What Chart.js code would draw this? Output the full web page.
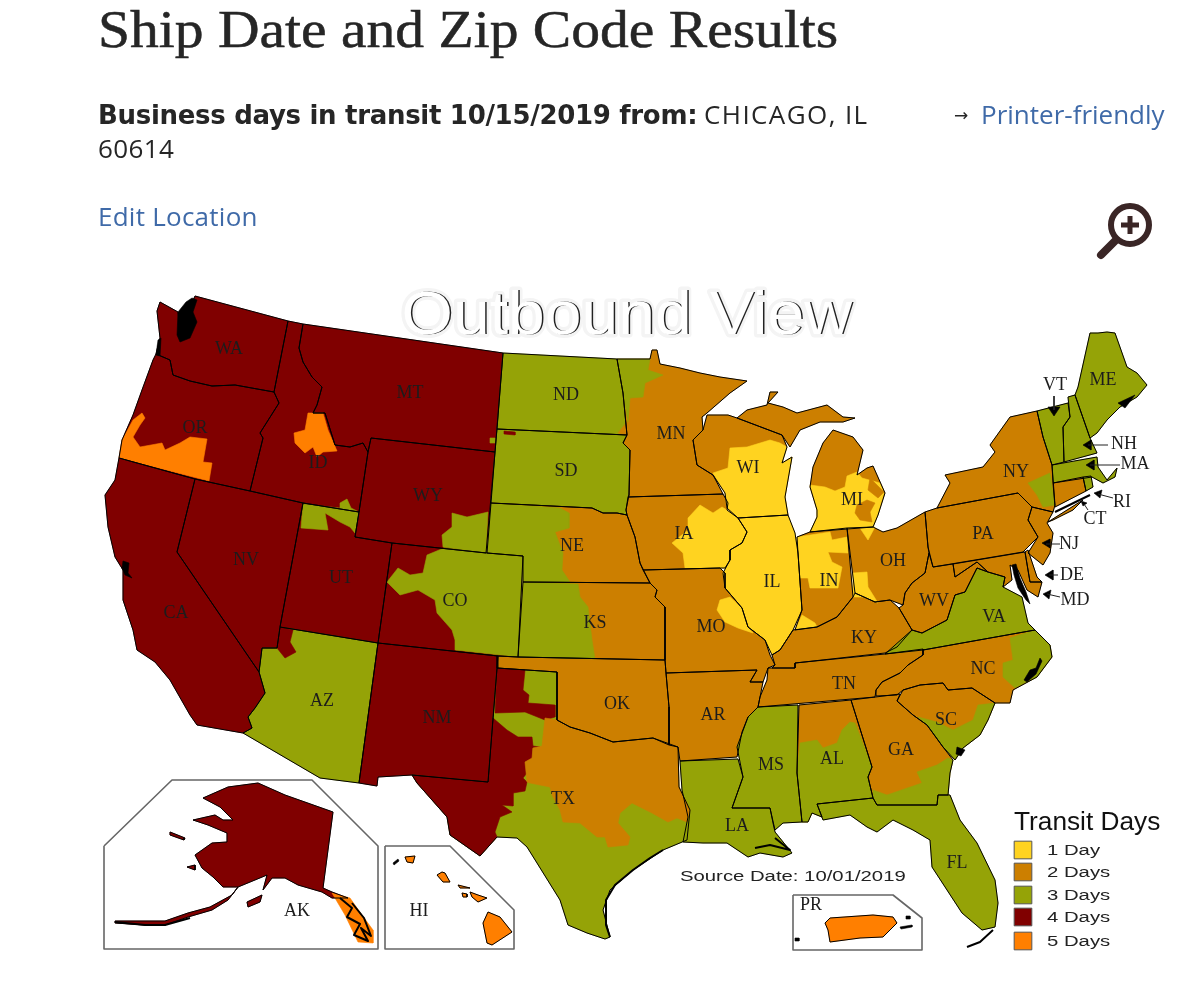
<!DOCTYPE html>
<html>
<head>
<meta charset="utf-8">
<title>Ship Date and Zip Code Results</title>
<script src="https://cdn.jsdelivr.net/npm/chart.js@4"></script>
<style>
    html, body { margin: 0; padding: 0; background: #fff; }
    body { width: 1194px; height: 988px; position: relative; overflow: hidden; }
    #mapChart { position: absolute; left: 0; top: 0; }
    .t { position: absolute; white-space: nowrap; transform-origin: 0 0; color: #262626; }
    .link { color: #3f6aa8; }
    h1.t { margin: 0; left: 98px; top: 0; font: 400 52px/60px "Liberation Serif", serif; transform: scaleX(1.107); -webkit-text-stroke: 0.5px #262626; }
    .body { font: 400 26px/34px "Open Sans", sans-serif; }
    .body b { font-family: "DejaVu Sans", sans-serif; font-size: 26px; font-weight: 700; letter-spacing: -0.3px; }
    .body span { letter-spacing: 1.4px; }
    #zoomIcon { position: absolute; left: 1090px; top: 198px; }
</style>
</head>
<body>
<canvas id="mapChart" width="1194" height="988"></canvas>
<h1 class="t">Ship Date and Zip Code Results</h1>
<div class="t body" style="left:98px;top:97px"><b>Business days in transit 10/15/2019 from:</b> <span>CHICAGO, IL</span></div>
<div class="t body" style="left:98px;top:131px;letter-spacing:0.4px">60614</div>
<div class="t body link" style="left:98px;top:199px;letter-spacing:0.25px">Edit Location</div>
<div class="t body link" style="left:981px;top:97px">Printer-friendly</div>
<div class="t" style="left:954px;top:105px;font:400 17px 'DejaVu Sans'">&#8594;</div>
<svg id="zoomIcon" width="68" height="66" viewBox="0 0 68 66">
    <circle cx="40" cy="27" r="19" fill="#fff" stroke="#3a2626" stroke-width="6"/>
    <path d="M40 18v18M31 27h18" stroke="#3a2626" stroke-width="5"/>
    <path d="M26 42L11 57" stroke="#3a2626" stroke-width="8" stroke-linecap="round"/>
</svg>
<script>
const WA = [160,302,178,312,180,330,195,296,288,321,274,392,235,385,212,386,190,381,173,375,170,360,156,354,160,338,157,311];
const OR = [156,354,170,360,173,375,190,381,212,386,235,385,274,392,279,403,260,433,263,438,250,491,195,479,119,458,122,440,133,415,142,390,153,360];
const ID = [288,321,303,324,299,348,303,362,312,377,322,387,317,405,313,413,325,413,335,445,350,447,363,443,368,452,359,512,303,503,250,491,263,438,260,433,279,403,274,392];
const MT = [303,324,503,353,495,452,371,438,368,452,363,443,350,447,335,445,325,413,313,413,317,405,322,387,312,377,303,362,299,348];
const WY = [371,438,495,452,486,553,392,543,355,537,359,512,368,452];
const NV = [195,479,250,491,303,503,280,627,277,648,262,648,259,672,177,552];
const CA = [119,458,195,479,177,552,259,672,265,693,255,708,248,717,252,728,243,733,197,725,190,715,170,680,155,662,137,650,133,630,123,600,123,570,115,557,108,527,105,495,115,480];
const UT = [303,503,359,512,355,537,392,543,378,643,280,627];
const CO = [392,543,487,553,523,556,518,657,498,656,378,643];
const AZ = [262,648,277,648,280,627,378,643,359,783,320,778,243,733,252,728,248,717,255,708,265,693,259,672];
const NM = [378,643,498,656,497,668,488,782,412,775,378,777,377,786,359,783];
const ND = [503,353,617,359,623,393,627,435,497,429];
const SD = [497,429,627,435,623,443,630,450,629,495,626,510,627,515,617,513,603,513,592,508,491,503,495,452];
const NE = [491,503,592,508,603,513,617,513,627,515,635,537,640,563,650,583,523,582,523,556,487,553];
const KS = [523,582,650,583,657,590,655,597,665,607,665,660,518,657];
const OK = [498,656,518,657,665,660,666,673,669,707,669,745,653,738,613,742,590,733,570,727,557,720,557,672,497,668];
const TX = [497,668,557,672,557,720,570,727,590,733,613,742,653,738,678,747,679,787,690,810,687,840,663,850,633,870,610,890,603,910,610,937,605,939,587,933,568,925,560,900,537,863,527,847,517,838,497,837,480,856,450,835,447,817,417,783,412,775,488,782];
const MN = [617,359,650,359,652,350,657,350,660,364,680,368,700,373,720,377,747,381,730,393,707,413,702,417,703,430,693,440,697,465,713,475,723,494,628,497,629,495,630,450,623,443,627,435,623,393];
const IA = [628,497,723,494,728,503,727,510,738,518,747,532,742,543,730,550,730,560,725,568,720,568,643,570,640,563,635,537,627,515,626,510];
const MO = [643,570,720,568,725,573,725,588,742,608,748,627,765,640,770,655,775,665,768,668,763,682,750,682,757,670,666,673,665,660,665,607,655,597,657,590,650,583];
const AR = [666,673,757,670,750,682,763,682,760,697,758,707,748,717,742,732,737,757,680,761,678,747,669,745,669,707];
const LA = [680,761,738,759,743,777,732,808,770,808,773,823,775,832,792,853,783,857,760,853,748,857,727,843,703,843,683,842,688,817,682,790];
const WI = [707,415,728,415,737,418,782,435,787,447,782,463,792,457,785,497,788,515,738,518,727,508,725,493,713,475,697,465,693,440,703,430];
const IL = [738,518,788,515,795,533,798,553,802,610,793,630,780,650,772,655,765,640,748,627,742,608,725,588,723,573,730,560,730,550,742,543,747,532];
const MIU = [737,418,747,410,767,405,770,392,778,392,768,403,783,407,797,413,827,405,843,417,855,418,843,422,820,422,800,430,790,447,782,435];
const MIL = [810,532,817,517,817,510,810,487,813,467,823,443,833,430,853,437,863,450,857,475,867,468,873,466,885,493,878,515,873,527];
const IN = [797,537,810,532,847,528,853,597,837,617,817,627,795,630,802,610,798,553];
const OH = [847,528,873,527,883,532,897,528,925,512,928,547,929,553,925,573,912,583,905,593,903,605,890,600,875,602,855,593];
const KY = [853,597,855,593,875,602,890,600,899,608,912,630,897,647,885,653,795,663,795,668,772,668,775,665,772,655,780,650,793,630,817,627,837,617];
const TN = [768,668,795,668,795,663,885,654,923,649,923,655,908,665,900,673,882,682,876,690,875,697,758,707,760,697,767,680];
const MS = [758,707,798,705,797,773,802,822,783,823,775,830,770,808,732,808,743,777,737,747,748,717];
const AL = [799,705,851,700,872,767,868,777,873,798,817,804,822,817,812,813,808,822,802,822,797,773];
const GA = [851,700,900,694,897,701,913,715,927,725,943,747,953,760,950,773,948,795,938,795,937,805,877,805,873,798,868,777,872,767];
const FL = [877,805,937,805,938,795,950,795,960,820,977,843,995,880,998,903,995,927,982,930,962,913,947,890,932,867,930,840,913,830,893,820,877,832,867,827,850,815,823,820,817,804,873,798];
const SC = [897,701,903,690,920,685,943,683,948,690,972,688,995,703,988,720,980,735,963,748,955,760,943,747,927,725,913,715];
const NC = [923,650,1035,630,1050,645,1052,657,1037,677,1013,690,1010,703,995,703,972,688,948,690,943,683,920,685,903,690,897,695,876,696,876,690,882,682,900,673,908,665,923,655];
const VA = [885,654,912,630,922,633,947,620,955,595,965,592,977,568,988,572,1005,577,1003,587,1022,597,1028,623,1035,630,923,650];
const WV = [929,553,933,567,953,564,955,577,977,562,988,572,977,568,965,592,955,595,947,620,922,633,912,630,899,608,903,605,905,593,912,583,925,573];
const PA = [925,512,937,508,1018,493,1032,507,1028,520,1038,537,1023,552,933,567,928,547];
const NY = [937,508,950,483,945,475,983,467,995,452,990,445,1010,417,1037,411,1043,437,1052,465,1055,505,1053,512,1032,507,1018,493];
const LI = [1048,522,1083,500,1073,510,1053,520];
const NJ = [1032,507,1053,512,1047,523,1053,533,1050,553,1043,565,1028,553,1038,537,1028,520];
const MD = [953,564,1025,552,1030,582,1042,582,1038,597,1027,590,1018,570,1010,565,1012,580,1003,587,1005,577,988,572,977,562,955,577];
const DE = [1025,552,1028,550,1037,577,1042,582,1030,582];
const VT = [1037,411,1068,403,1070,417,1063,427,1064,462,1052,465,1043,437];
const NH = [1068,397,1075,395,1090,438,1097,453,1064,462,1063,427,1070,417];
const ME = [1075,395,1078,387,1090,333,1098,333,1107,332,1115,333,1127,367,1137,373,1147,385,1137,397,1120,407,1107,420,1097,433,1090,438];
const MA = [1052,465,1097,457,1098,467,1107,480,1117,468,1115,477,1103,483,1092,477,1053,483];
const CT = [1053,483,1083,477,1086,491,1055,507];
const RI = [1083,477,1091,476,1093,487,1086,491];
const AK = [203,798,228,787,258,783,285,795,333,812,323,888,332,892,348,898,332,898,322,892,298,885,285,878,272,878,263,890,267,875,238,887,228,900,212,910,188,917,165,925,145,925,115,923,115,921,145,921,165,921,188,913,210,907,232,895,238,887,223,887,213,877,202,868,195,855,212,843,227,842,227,833,208,825,193,820,215,815,223,820,233,820,220,807];
const KODIAK = [247,902,262,895,260,902,248,907];
const STLAWRENCE = [170,832,185,838,184,840,170,835];
const NUNIVAK = [187,867,195,865,195,870];

// areas that differ from the rest of their state
const orCoast = [133,420,142,413,145,418,140,425,133,437,140,447,162,443,165,450,180,443,190,437,207,439,203,462,212,463,209,481,119,458,122,440];
const idPatch = [308,413,323,413,328,430,337,451,323,452,317,457,313,447,305,453,295,443,294,433,305,430];
const utPatch = [303,504,339,508,340,503,347,499,351,508,359,512,355,533,350,527,340,522,325,513,328,530,301,528];
const wyPatch = [452,513,467,517,488,512,486,553,443,547,442,535,452,527];
const coBase = [444,548,523,556,518,657,455,650,455,640,452,630,437,613,435,600,418,590,400,595,387,582,398,568,410,575,423,573,427,555];
const azPatch = [280,627,293,630,290,642,296,652,285,658,277,648];
const txRedTop = [497,668,525,670,523,690,529,695,528,703,555,705,555,717,545,720,525,712,495,713];
const txRedLow = [493,718,507,730,518,737,532,737,533,746,540,747,532,748,532,759,525,762,527,773,523,778,527,782,525,791,513,793,513,806,502,805,512,812,500,817,495,832,497,837,480,856,450,835,447,817,417,783,412,775,488,782];
const txOrange = [545,718,557,720,570,727,590,733,613,742,653,738,678,747,679,787,690,810,687,822,677,818,668,822,652,813,632,803,620,813,618,823,630,837,628,845,608,847,605,837,597,837,580,823,563,822,560,810,552,795,550,787,530,783,527,782,525,762,532,758,533,748,542,746];
const mnGreen = [617,359,650,359,648,370,663,375,645,383,643,397,630,398,628,422,623,393];
const neGreen = [491,503,560,508,569,513,569,528,555,532,563,553,562,570,570,582,523,582,523,556,487,553];
const ksGreen = [523,582,578,584,580,597,588,607,592,640,595,659,518,657];
const ndOrange = [618,433,627,422,627,435];
const sdRed = [504,431,515,432,515,435,504,434];
const mtGreen = [490,438,495,438,495,443,490,443];
const wiYellow = [713,473,728,468,730,448,747,447,770,440,780,443,787,447,782,463,792,457,785,497,788,515,738,518,727,508,725,493];
const miYellow = [810,485,825,487,835,491,845,487,847,476,857,472,862,478,880,483,884,493,878,515,873,527,810,532,817,517,817,510];
const miOrangeA = [857,505,867,500,875,503,870,512,872,522,860,520,855,513];
const miOrangeB = [870,478,884,492,878,498,868,490];
const iaYellow = [672,543,688,530,688,518,700,505,713,513,722,507,727,510,738,518,747,532,742,543,730,550,730,560,725,568,685,568,683,553];
const moYellow = [720,600,730,597,742,608,748,627,753,633,738,628,725,622,717,610];
const inYellowA = [797,537,830,532,832,540,847,537,848,553,828,552,832,562,842,567,838,588,820,588,810,588,808,578,800,578];
const inYellowB = [795,630,802,615,815,623,817,627];
const ohYellowA = [853,573,867,572,868,587,878,603,863,597,853,597];
const ohYellowB = [860,528,875,527,868,540];
const alGreen = [800,743,817,740,823,748,837,743,842,730,850,722,855,723,872,767,868,777,873,798,817,804,822,817,812,813,808,822,802,822,797,773];
const gaGreen = [873,790,887,795,922,783,917,772,937,765,948,758,953,760,950,773,948,795,938,795,937,805,877,805,873,798];
const scGreen = [918,717,937,722,953,730,973,720,978,705,995,703,988,720,980,735,963,748,955,760,943,747,927,725];
const ncGreen = [1010,638,1035,630,1050,645,1052,657,1037,677,1015,688,1003,677,1003,663,1013,660];
const nyGreen = [1028,483,1050,473,1055,505,1043,507,1037,495];
const seAlaska = [332,893,350,898,362,915,373,930,373,943,358,942,345,915];
const hiBig = [488,912,500,917,512,932,492,945,487,943,483,923];
const hiMaui = [470,892,478,895,487,898,478,902,472,897];
const hiMolokai = [458,885,470,888,460,888];
const hiLanai = [462,893,467,894,467,897,463,897];
const hiOahu = [442,872,445,873,450,882,443,882,437,875];
const hiKauai = [405,857,415,856,413,863,407,862];
const prMain = [825,923,830,918,873,915,893,917,897,923,883,937,860,938,830,942,828,930];

// black coast detail and leader arrows
const puget = [178,312,186,302,192,298,197,300,193,312,197,322,190,338,180,342,177,335];
const grays = [158,340,161,338,160,356,156,355];
const sfBay = [123,561,129,563,128,573,132,578,125,575,122,568];
const chesapeake = [1012,565,1016,564,1020,578,1026,592,1030,604,1026,600,1018,588,1014,575];
const charleston = [957,747,965,750,961,756,956,754];
const pamlico = [1024,680,1030,670,1036,668,1040,658,1042,661,1036,674,1027,682];
const maineCoast = [1118,403,1135,395,1125,408];
const niihau = [393,863,398,859,399,861,394,865];
const vieques = [900,927,912,925,912,927,901,929];
const culebra = [906,916,910,916,910,919,906,919];
const mona = [795,938,799,938,799,941,795,941];
const arrowVT = [1048,407,1060,407,1054,416];
const arrowNH = [1083,445,1091,440,1091,450];
const arrowMA = [1086,465,1094,460,1094,470];
const arrowRI = [1094,493,1102,490,1100,498];
const arrowCT = [1081,501,1087,503,1083,506];
const arrowNJ = [1042,543,1050,539,1050,548];
const arrowDE = [1045,575,1053,570,1053,580];
const arrowMD = [1043,594,1051,590,1049,599];
const leaders = [
    [1054,396,1054,410], [1088,445,1108,445], [1090,465,1120,465], [1098,494,1113,498],
    [1084,504,1088,510], [1046,544,1060,544], [1049,575,1058,575], [1047,594,1060,597]
];
const texasCoast = [663,850,650,858,633,870,615,885,606,900,606,925,610,937];
const deltaCoast = [755,848,770,845,790,850,775,838];
const lisound = [1055,512,1090,495];
const floridaKeys = [967,947,980,942,993,930];
const aleutians = [115,922,145,925,165,925,190,918];
const panhandleInlets = [340,898,352,908,347,917,360,924,354,935,368,941,361,928,371,936,364,918,352,903];

// inset frames
const frameAK = [104,846,172,780,312,780,378,846,378,949,104,949];
const frameHI = [385,846,450,846,514,910,514,949,385,949];
const framePR = [793,895,893,895,922,918,922,950,793,950];

const dayColors = { 1: '#ffd320', 2: '#cc7f00', 3: '#95a307', 4: '#800000', 5: '#ff7f00' };

const stateShapes = [WA,OR,ID,MT,WY,NV,CA,UT,CO,AZ,NM,ND,SD,NE,KS,OK,TX,MN,IA,MO,AR,LA,WI,IL,MIU,MIL,IN,OH,KY,TN,MS,AL,GA,FL,SC,NC,VA,WV,PA,NY,LI,NJ,MD,DE,VT,NH,ME,MA,CT,RI,AK,KODIAK,STLAWRENCE,NUNIVAK];
const stateDays   = [4, 4, 4, 4, 4, 4, 4, 4, 4, 3, 4, 3, 3, 2, 2, 2, 3, 2, 2, 2, 2, 3, 2, 1, 2, 2, 2, 2, 2, 2, 3, 2, 2, 3, 2, 2, 3, 2, 2, 2, 2, 2, 2, 2, 3, 3, 3, 3, 2, 3, 4, 4, 4, 4];

const patchShapes = [orCoast,idPatch,utPatch,wyPatch,coBase,azPatch,txRedTop,txRedLow,txOrange,mnGreen,neGreen,ksGreen,ndOrange,sdRed,mtGreen,wiYellow,miYellow,miOrangeA,miOrangeB,iaYellow,moYellow,inYellowA,inYellowB,ohYellowA,ohYellowB,alGreen,gaGreen,scGreen,ncGreen,nyGreen,seAlaska];
const patchDays   = [5, 5, 3, 3, 3, 4, 4, 4, 2, 3, 3, 3, 2, 4, 3, 1, 1, 2, 2, 1, 1, 1, 1, 1, 1, 3, 3, 3, 3, 3, 5];
const islandShapes = [hiBig,hiMaui,hiMolokai,hiLanai,hiOahu,hiKauai,prMain];
const blackShapes = [puget,grays,sfBay,chesapeake,charleston,pamlico,maineCoast,niihau,vieques,culebra,mona,arrowVT,arrowNH,arrowMA,arrowRI,arrowCT,arrowNJ,arrowDE,arrowMD];
const coastLines = [texasCoast,deltaCoast,lisound,floridaKeys,aleutians,panhandleInlets];

const labelNames = ['WA','MT','OR','ID','WY','ND','SD','MN','WI','MI','NY','PA','OH','IN','IL','IA','NE','KS','MO','KY','WV','VA','NC','TN','AR','OK','AZ','NM','TX','LA','MS','AL','GA','SC','FL','CO','UT','NV','CA','ME','VT','NH','MA','RI','CT','NJ','DE','MD','AK','HI','PR'];
const labelX = [229,410,195,318,428,566,566,671,748,852,1016,983,893,829,772,684,572,595,711,864,934,994,983,844,713,617,322,437,563,737,771,832,901,946,957,455,341,246,176,1103,1055,1124,1135,1122,1095,1069,1072,1075,297,419,811];
const labelY = [349,393,428,463,496,395,471,434,468,500,472,534,561,581,582,534,546,623,627,638,601,617,669,684,715,704,701,718,799,826,765,759,750,720,863,601,578,560,613,380,385,444,464,502,519,544,575,600,911,911,905];

const legendTitle = 'Transit Days';
const legendLabels = ['1 Day', '2 Days', '3 Days', '4 Days', '5 Days'];
const legendValues = [1, 2, 3, 4, 5];
const legendY = [850, 872, 895, 917, 941];
const legendX = 1023;

function toPoints(list) {
    const pts = [];
    for (let i = 0; i < list.length; i += 2) pts.push({ x: list[i], y: list[i + 1] });
    return pts;
}

function closed(list) {
    return toPoints(list.concat(list.slice(0, 2)));
}

function fillSet(list, color) {
    return { type: 'scatter', showLine: true, data: closed(list), fill: 'shape', backgroundColor: color, borderColor: color, borderWidth: 0.6, pointRadius: 0, clip: false };
}

function lineSet(points, color, width) {
    return { type: 'scatter', showLine: true, data: points, fill: false, borderColor: color, borderWidth: width, borderJoinStyle: 'round', pointRadius: 0, clip: false };
}

const datasets = [];
stateShapes.forEach((s, i) => datasets.push(fillSet(s, dayColors[stateDays[i]])));
patchShapes.forEach((s, i) => datasets.push(fillSet(s, dayColors[patchDays[i]])));
islandShapes.forEach(s => datasets.push(fillSet(s, dayColors[5])));
stateShapes.forEach(s => datasets.push(lineSet(closed(s), '#000', 1)));
islandShapes.forEach(s => datasets.push(lineSet(closed(s), '#000', 1)));
blackShapes.forEach(s => datasets.push(fillSet(s, '#000')));
coastLines.forEach(s => datasets.push(lineSet(toPoints(s), '#000', 2)));
leaders.forEach(s => datasets.push(lineSet(toPoints(s), '#222', 1)));
[frameAK, frameHI, framePR].forEach(s => datasets.push(lineSet(closed(s), '#666', 1.6)));
datasets.push({
    type: 'scatter',
    data: legendValues.map((v, i) => ({ x: legendX, y: legendY[i] })),
    backgroundColor: legendValues.map(v => dayColors[v]),
    borderColor: '#555',
    borderWidth: 1,
    pointStyle: 'rect',
    pointRadius: 12.5
});
// chart draws the first dataset on top, we want the list order painted in sequence
datasets.forEach((d, i) => { d.order = datasets.length - i; });

function stretchedText(ctx, text, x, y, font, color, sx) {
    ctx.save();
    ctx.translate(x, y);
    ctx.scale(sx, 1);
    ctx.font = font;
    ctx.fillStyle = color;
    ctx.textBaseline = 'middle';
    ctx.fillText(text, 0, 0);
    ctx.restore();
}

const mapText = {
    id: 'mapText',
    afterDraw(chart) {
        const { ctx, scales } = chart;
        const px = v => scales.x.getPixelForValue(v);
        const py = v => scales.y.getPixelForValue(v);
        ctx.save();
        ctx.font = '18px "Liberation Serif"';
        ctx.textAlign = 'center';
        ctx.textBaseline = 'middle';
        ctx.fillStyle = '#1c1c1c';
        labelNames.forEach((n, i) => ctx.fillText(n, px(labelX[i]), py(labelY[i])));
        ctx.restore();

        // title has a thin dark edge and a pale halo
        ctx.save();
        ctx.translate(px(402), py(317));
        ctx.scale(1.065, 1);
        ctx.font = '62px "Liberation Sans"';
        ctx.textBaseline = 'middle';
        ctx.lineJoin = 'round';
        ctx.lineWidth = 7;
        ctx.strokeStyle = '#f4f4f4';
        ctx.strokeText('Outbound View', 0, 0);
        ctx.fillStyle = '#222';
        ctx.fillText('Outbound View', 1, 0);
        ctx.fillStyle = '#fff';
        ctx.fillText('Outbound View', -0.4, 0);
        ctx.restore();

        stretchedText(ctx, 'Source Date: 10/01/2019', px(680), py(877), '14px "Liberation Sans"', '#222', 1.45);
        stretchedText(ctx, legendTitle, px(1014), py(823), '25px "Liberation Sans"', '#111', 1.05);
        legendLabels.forEach((t, i) => {
            stretchedText(ctx, t, px(1047), py(legendY[i] + 1), '14px "Liberation Sans"', '#222', 1.45);
        });
    }
};

new Chart(document.getElementById('mapChart').getContext('2d'), {
    type: 'scatter',
    data: { datasets },
    options: {
        responsive: false,
        animation: false,
        events: [],
        layout: { padding: 0, autoPadding: false },
        scales: {
            x: { type: 'linear', min: 0, max: 1194, display: false },
            y: { type: 'linear', min: 0, max: 988, reverse: true, display: false }
        },
        plugins: { legend: { display: false }, tooltip: { enabled: false } }
    },
    plugins: [mapText]
});
</script>
</body>
</html>
